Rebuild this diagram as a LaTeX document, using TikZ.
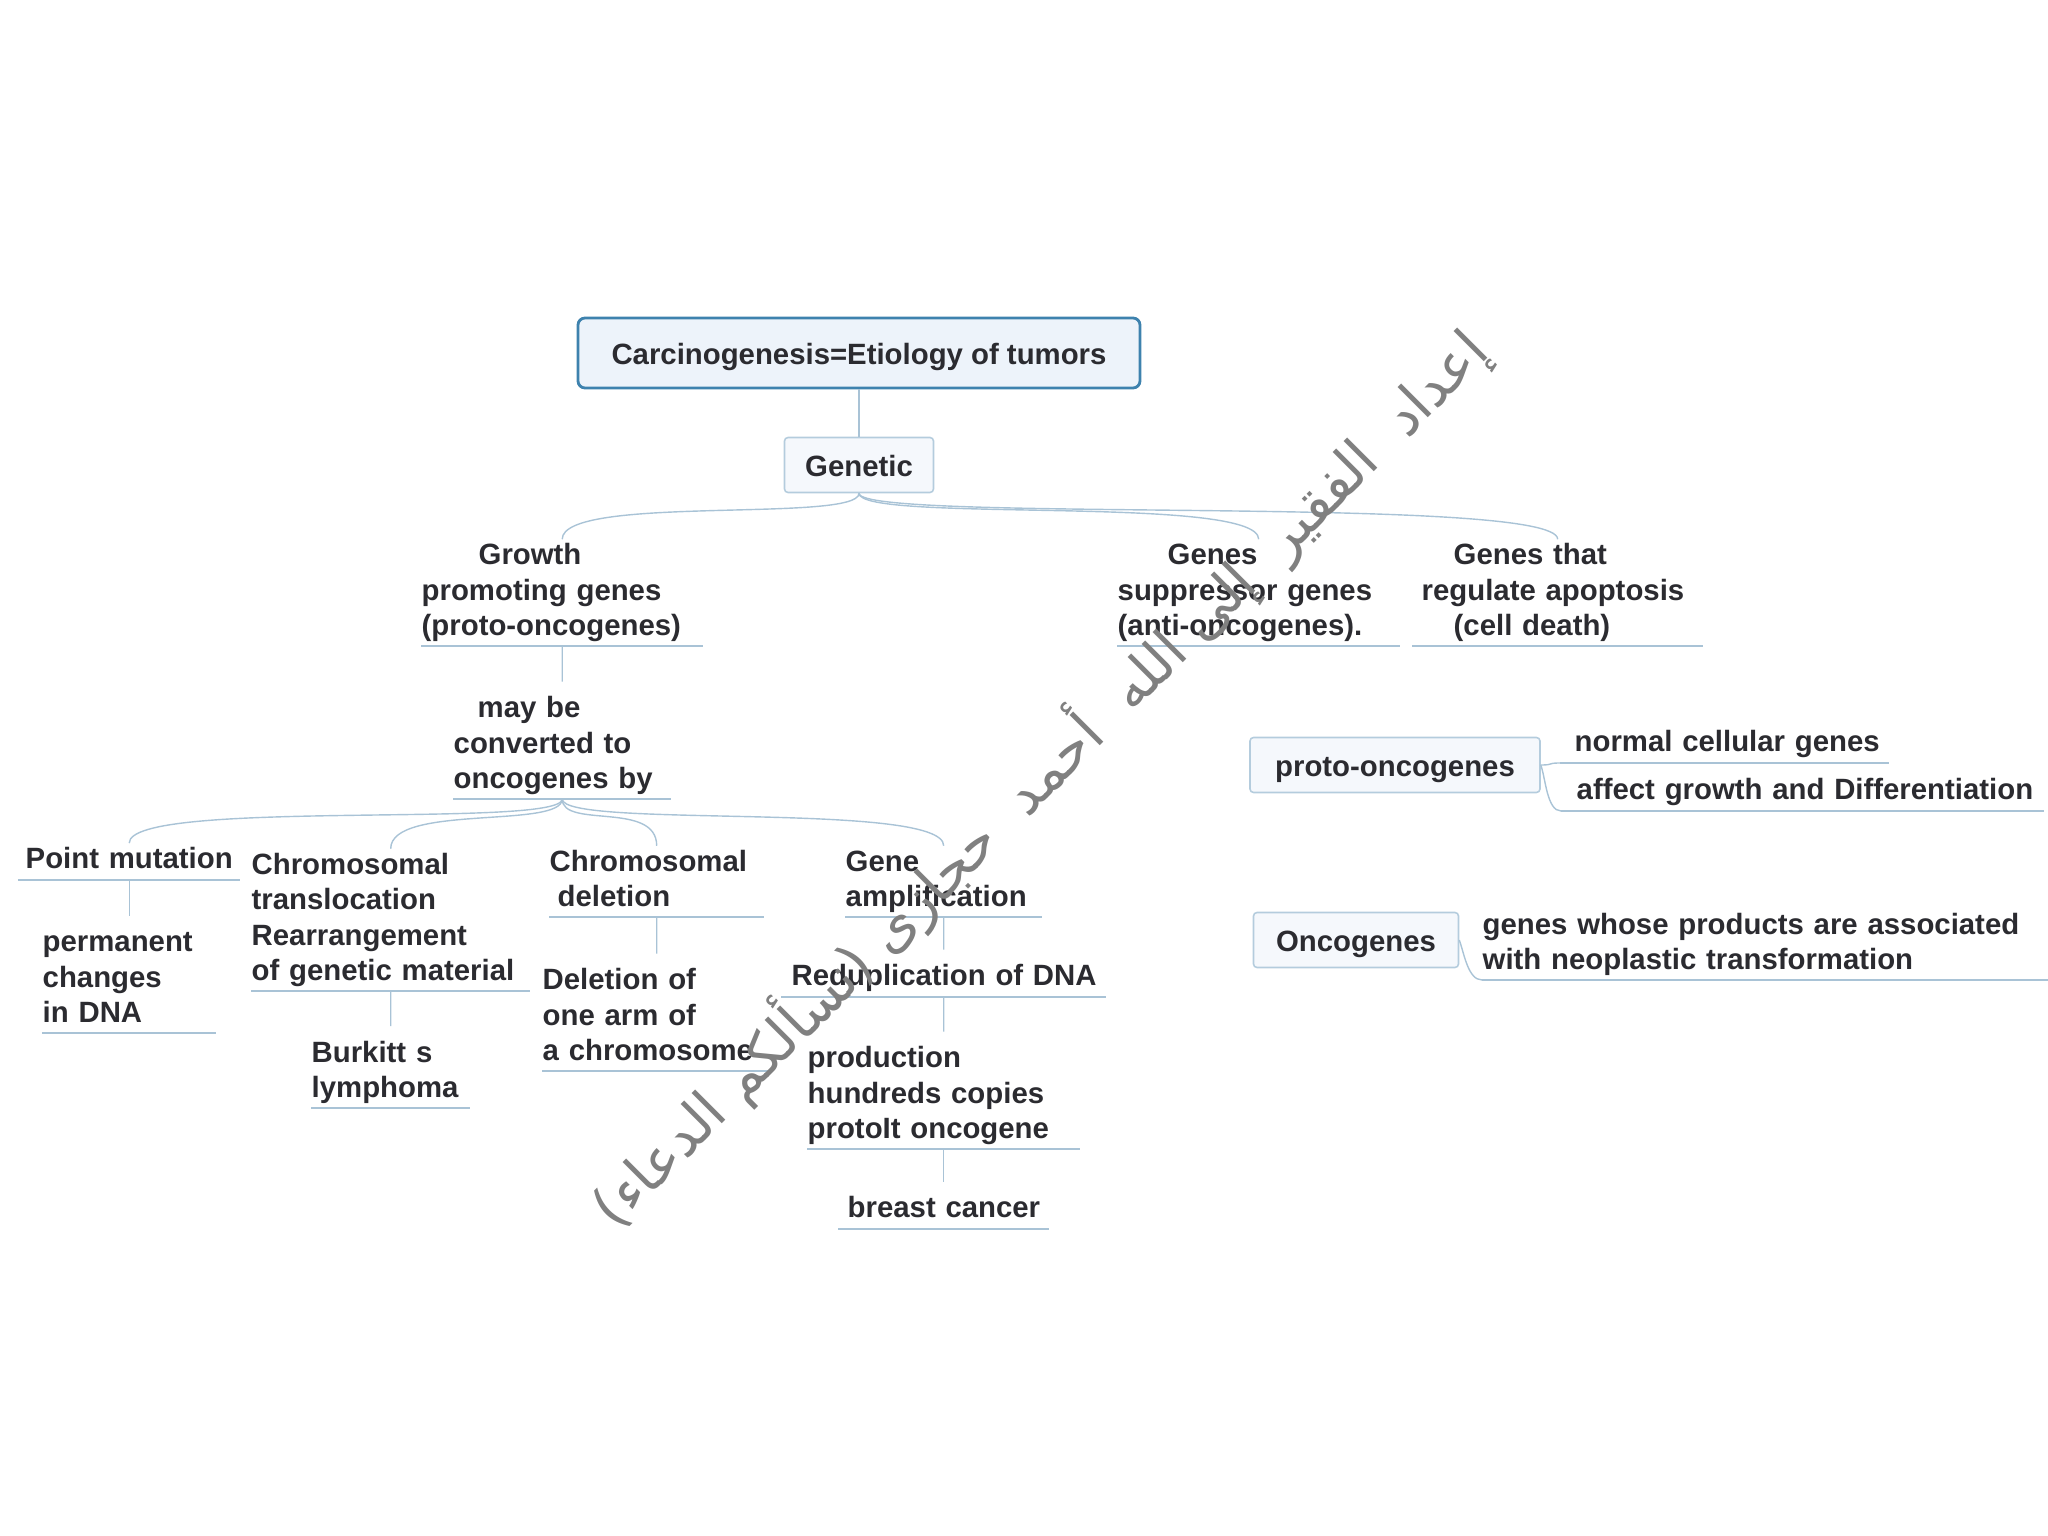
\documentclass[tikz,border=0pt]{standalone}
\usepackage{fontspec}
\setmainfont{Liberation Sans}
\newfontfamily\arabicfont[Script=Arabic]{DejaVu Sans}
\TeXXeTstate=1
\usepackage{xcolor}
\usepackage{tikz}
\usetikzlibrary{positioning}
\usetikzlibrary{calc}

\definecolor{inkc}{HTML}{2B2B30}
\definecolor{linec}{HTML}{A9C3D6}
\definecolor{rootc}{HTML}{3E82AE}
\definecolor{rootf}{HTML}{EDF3FA}
\definecolor{subc}{HTML}{B4CCDD}
\definecolor{subf}{HTML}{F5F8FC}
\definecolor{markc}{HTML}{808080}

\tikzset{
	boxfont/.style={text=inkc, font=\fontsize{8.35}{10}\selectfont\bfseries, text height=6.3pt, text depth=0pt},
	rootbox/.style={boxfont, draw=rootc, fill=rootf, line width=.8pt, rounded corners=2pt, minimum width=5.62cm, minimum height=.7cm},
	subbox/.style={boxfont, draw=subc, fill=subf, line width=.45pt, rounded corners=1pt, minimum height=.55cm},
	topic/.style={anchor=south west, text width=#1, inner sep=0pt, align=left, text=inkc, font=\fontsize{8.35}{10.1}\selectfont\bfseries, execute at begin node=\strut, execute at end node={\rule[-2.7pt]{0pt}{7pt}}},
	conn/.style={draw=linec, line width=.4pt},
	stem/.style={conn, shorten >=3pt},
	branch/.style={out=-90, in=90, out distance=.3cm, in distance=.45cm, shorten >=#1},
	side/.style={out=#1, in=180, out distance=.14cm, in distance=.14cm}
}

\begin{document}
\begin{tikzpicture}
\useasboundingbox (0,0) rectangle (20.48,-15.36);

\node[rootbox] (root) at (8.59,-3.53) {Carcinogenesis=Etiology of tumors};
\node[subbox, minimum width=1.49cm] (genetic) at (8.59,-4.65) {Genetic};

\node[topic=2.81cm] (growth) at (4.21,-6.46) {\hspace*{.57cm}Growth\\promoting genes\\(proto-oncogenes)};
\node[topic=2.82cm] (suppressor) at (11.17,-6.46) {\hspace*{.5cm}Genes\\suppressor genes\\(anti-oncogenes).};
\node[topic=2.90cm] (apoptosis) at (14.12,-6.46) {\hspace*{.41cm}Genes that\\\hspace*{.09cm}regulate apoptosis\\\hspace*{.41cm}(cell death)};
\node[topic=2.17cm] (may) at (4.53,-7.99) {\hspace*{.24cm}may be\\converted to\\oncogenes by};

\node[topic=2.21cm] (point) at (.18,-8.80) {\hspace*{.07cm}Point mutation};
\node[topic=2.78cm] (chrom) at (2.51,-9.91) {Chromosomal\\translocation\\Rearrangement\\of genetic material};
\node[topic=2.14cm] (deletion) at (5.49,-9.17) {Chromosomal\\\hspace*{.08cm}deletion};
\node[topic=1.96cm] (gene) at (8.45,-9.17) {Gene\\amplification};

\node[topic=1.73cm] (permanent) at (.42,-10.33) {permanent\\changes\\in DNA};
\node[topic=1.58cm] (burkitt) at (3.11,-11.08) {Burkitt s\\lymphoma};
\node[topic=2.28cm] (arm) at (5.42,-10.71) {Deletion of\\one arm of\\a chromosome};
\node[topic=3.24cm] (redup) at (7.81,-9.97) {\hspace*{.1cm}Reduplication of DNA};
\node[topic=2.72cm] (production) at (8.07,-11.49) {production\\hundreds copies\\protoIt oncogene};
\node[topic=2.10cm] (breast) at (8.38,-12.29) {\hspace*{.09cm}breast cancer};

\node[subbox, minimum width=2.90cm] (proto) at (13.95,-7.65) {proto-oncogenes};
\node[topic=3.28cm] (normal) at (15.60,-7.63) {\hspace*{.14cm}normal cellular genes};
\node[topic=4.82cm] (affect) at (15.61,-8.11) {\hspace*{.15cm}affect growth and Differentiation};
\node[subbox, minimum width=2.05cm] (onco) at (13.56,-9.40) {Oncogenes};
\node[topic=5.67cm] (products) at (14.82,-9.80) {genes whose products are associated\\with neoplastic transformation};

\draw[conn] (root) -- (genetic);
\draw[conn] (genetic.south) to[branch=3pt] (growth.north);
\draw[conn] (genetic.south) to[branch=3pt] (suppressor.north);
\draw[conn] (genetic.south) to[branch=3pt] (apoptosis.north);
\draw[stem] (growth.south) -- (may.north);
\draw[conn] (may.south) to[branch=2.2pt] (point.north);
\draw[conn] (may.south) to[branch=4pt] (chrom.north);
\draw[conn] (may.south) to[branch=3pt] (deletion.north);
\draw[conn] (may.south) to[branch=3pt] (gene.north);
\draw[stem] (point.south) -- (permanent.north);
\draw[stem] (chrom.south) -- (burkitt.north);
\draw[stem] (deletion.south) -- (arm.north);
\draw[stem] (gene.south) -- (redup.north);
\draw[stem] (redup.south) -- (production.north);
\draw[stem] (production.south) -- (breast.north);
\draw[conn] (proto.east) to[side=0] (normal.south west);
\draw[conn] (proto.east) to[side=-70] (affect.south west);
\draw[conn] (onco.east) to[side=-70] (products.south west);

% underlines
\foreach \n in {growth,suppressor,apoptosis,may,point,chrom,deletion,gene,permanent,burkitt,arm,redup,production,breast,normal,affect,products}
	\draw[conn] (\n.south west) -- (\n.south east);

\node[rotate=45, text=markc, font=\arabicfont\fontsize{16}{20}\selectfont] (mark) at (10.38,-7.77) {\beginR إعداد\ \ الفقير\ \ إلى الله\ \ أحمد\ \ حجازى (نسألكم الدعاء)\endR};
\end{tikzpicture}
\end{document}
